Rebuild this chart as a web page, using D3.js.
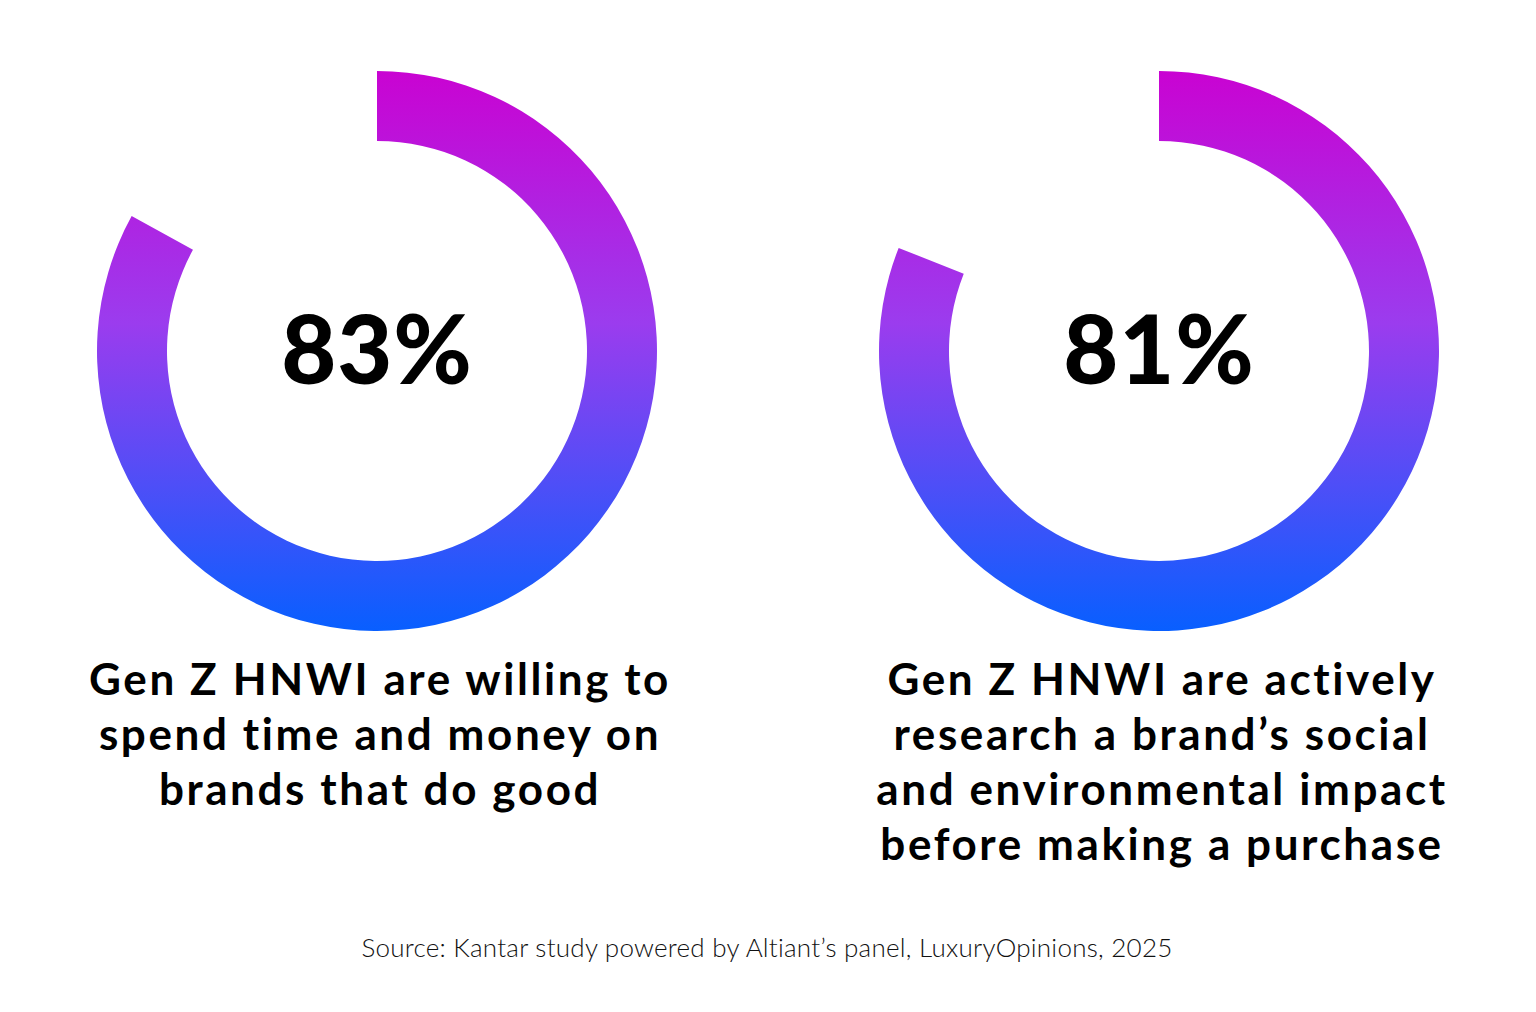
<!DOCTYPE html>
<html>
<head>
<meta charset="utf-8">
<script src="https://cdn.jsdelivr.net/npm/d3@7"></script>
<style>
  body { margin: 0; background: #fff; }
  svg { display: block; font-family: Lato, 'Noto Sans', sans-serif; }
</style>
</head>
<body>
<svg id="chart"></svg>
<script>
// values
const shares = [83, 81];
const centerLabels = ['83%', '81%'];
const captions = [
  ['Gen Z HNWI are willing to', 'spend time and money on', 'brands that do good'],
  ['Gen Z HNWI are actively', 'research a brand\u2019s social', 'and environmental impact', 'before making a purchase']
];
const source = 'Source: Kantar study powered by Altiant\u2019s panel, LuxuryOpinions, 2025';

const width = 1536;
const height = 1012;
const outerR = 280;
const innerR = 210;
const cy = 351;

const svg = d3.select('#chart')
  .attr('width', width)
  .attr('height', height);

// one donut per column
const xScale = d3.scalePoint()
  .domain(d3.range(shares.length))
  .range([377, 1159]);

const angle = d3.scaleLinear()
  .domain([0, 100])
  .range([0, 2 * Math.PI]);

// vertical gradient spanning the whole ring height
const grad = svg.append('defs').append('linearGradient')
  .attr('id', 'ringGrad')
  .attr('gradientUnits', 'userSpaceOnUse')
  .attr('x1', 0).attr('y1', -outerR)
  .attr('x2', 0).attr('y2', outerR);
grad.append('stop').attr('offset', '0%').attr('stop-color', '#c903d2');
grad.append('stop').attr('offset', '45%').attr('stop-color', '#9b3cee');
grad.append('stop').attr('offset', '100%').attr('stop-color', '#085fff');

const arc = d3.arc()
  .innerRadius(innerR)
  .outerRadius(outerR)
  .startAngle(0)
  .endAngle((d) => angle(d));

const groups = svg.selectAll('.donut')
  .data(shares)
  .join('g')
  .attr('class', 'donut')
  .attr('transform', (d, i) => `translate(${xScale(i)},${cy})`);

groups.append('path')
  .attr('d', arc)
  .attr('fill', 'url(#ringGrad)');

groups.append('text')
  .attr('text-anchor', 'middle')
  .attr('y', 33)
  .attr('font-size', 95)
  .attr('font-weight', 900)
  .attr('letter-spacing', 1)
  .attr('fill', '#000')
  .text((d, i) => centerLabels[i]);

// captions below each ring
svg.selectAll('.caption')
  .data(captions)
  .join('text')
  .attr('class', 'caption')
  .attr('text-anchor', 'middle')
  .attr('font-size', 44)
  .attr('font-weight', 700)
  .attr('letter-spacing', 2.6)
  .attr('fill', '#000')
  .selectAll('tspan')
  .data((d, i) => d.map((line) => ({ line, i })))
  .join('tspan')
  .attr('x', (d) => xScale(d.i) + 3)
  .attr('y', (d, j) => 695 + j * 55)
  .text((d) => d.line);

svg.append('text')
  .attr('x', 767)
  .attr('y', 957)
  .attr('text-anchor', 'middle')
  .attr('font-size', 26)
  .attr('font-weight', 300)
  .attr('letter-spacing', 0.25)
  .attr('fill', '#111')
  .text(source);
</script>
</body>
</html>
